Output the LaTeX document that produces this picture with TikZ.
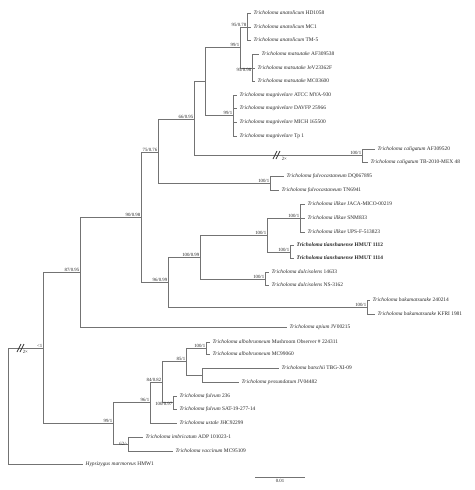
\documentclass[tikz,border=0pt]{standalone}
\usepackage{fontspec}
\setmainfont{Liberation Serif}
\begin{document}
\begin{tikzpicture}[x=1pt,y=-1pt,
  br/.style={draw=black!55, line width=0.55pt},
  leaf/.style={anchor=west, inner xsep=2.5pt, inner ysep=0.5pt, font=\fontsize{5.4}{6}\selectfont, text=black!85},
  sup/.style={anchor=south east, inner sep=0.6pt, font=\fontsize{4.8}{5.5}\selectfont, text=black!85},
  brk/.style={draw=black!80, line width=0.7pt}]
\useasboundingbox (0,0) rectangle (474,490);
% internal nodes
\coordinate (R) at (8,406);
\coordinate (Nlt) at (43,348);
\coordinate (N87) at (80,272);
\coordinate (N90) at (141,217);
\coordinate (N75) at (158,152);
\coordinate (N66) at (194,119);
\coordinate (Nu) at (205,81);
\coordinate (N99a) at (240,47);
\coordinate (N95a) at (247,27);
\coordinate (N95m) at (252,68);
\coordinate (N99m) at (233,115);
\coordinate (Ncal) at (362,155);
\coordinate (Nfc) at (270,183);
\coordinate (N96) at (168,282);
\coordinate (N100b) at (200,257);
\coordinate (Nit) at (267,235);
\coordinate (Nil) at (300,218);
\coordinate (Nti) at (290,252);
\coordinate (Ndu) at (265,279);
\coordinate (Nba) at (367,307);
\coordinate (N99b) at (113,423);
\coordinate (N96l) at (150,402);
\coordinate (N84) at (162,382);
\coordinate (N85) at (186,361);
\coordinate (Nal) at (206,348);
\coordinate (Nbp) at (202,375);
\coordinate (Nfu) at (173,402);
\coordinate (N62) at (128,444);
% leaves
\node[leaf] (an1) at (251,13) {\textit{Tricholoma anatolicum} HD1058};
\node[leaf] (an2) at (251,27) {\textit{Tricholoma anatolicum} MC1};
\node[leaf] (an3) at (251,40) {\textit{Tricholoma anatolicum} TM-5};
\node[leaf] (ma1) at (259,54) {\textit{Tricholoma matsutake} AF309538};
\node[leaf] (ma2) at (255,68) {\textit{Tricholoma matsutake} JeV23362F};
\node[leaf] (ma3) at (255,81) {\textit{Tricholoma matsutake} MC03600};
\node[leaf] (mg1) at (237,95) {\textit{Tricholoma magnivelare} ATCC MYA-930};
\node[leaf] (mg2) at (237,108) {\textit{Tricholoma magnivelare} DAVFP 25966};
\node[leaf] (mg3) at (237,122) {\textit{Tricholoma magnivelare} MICH 165500};
\node[leaf] (mg4) at (237,136) {\textit{Tricholoma magnivelare} Tp 1};
\node[leaf] (ca1) at (375,149) {\textit{Tricholoma caligatum} AF309520};
\node[leaf] (ca2) at (368,162) {\textit{Tricholoma caligatum} TB-2010-MEX 48};
\node[leaf] (fc1) at (284,176) {\textit{Tricholoma fulvocastaneum} DQ067895};
\node[leaf] (fc2) at (279,190) {\textit{Tricholoma fulvocastaneum} TN6941};
\node[leaf] (il1) at (305,204) {\textit{Tricholoma illkae} JACA-MICO-00219};
\node[leaf] (il2) at (305,218) {\textit{Tricholoma illkae} SNM833};
\node[leaf] (il3) at (305,232) {\textit{Tricholoma illkae} UPS-F-513823};
\node[leaf] (ti1) at (294,245) {\textbf{\textit{Tricholoma tianshanense} HMUT 1112}};
\node[leaf] (ti2) at (294,258) {\textbf{\textit{Tricholoma tianshanense} HMUT 1114}};
\node[leaf] (du1) at (269,272) {\textit{Tricholoma dulcisolens} 14633};
\node[leaf] (du2) at (269,285) {\textit{Tricholoma dulcisolens} NS-3162};
\node[leaf] (ba1) at (370,300) {\textit{Tricholoma bakamatsutake} 240214};
\node[leaf] (ba2) at (375,314) {\textit{Tricholoma bakamatsutake} KFRI 1981};
\node[leaf] (ap) at (287,327) {\textit{Tricholoma apium} JV00215};
\node[leaf] (al1) at (210,342) {\textit{Tricholoma albobrunneum} Mushroom Observer \# 224311};
\node[leaf] (al2) at (210,354) {\textit{Tricholoma albobrunneum} MC99060};
\node[leaf] (bt) at (279,368) {\textit{Tricholoma batschii} TBG-XI-09};
\node[leaf] (pe) at (239,382) {\textit{Tricholoma pessundatum} JV04482};
\node[leaf] (fu1) at (177,396) {\textit{Tricholoma fulvum} 236};
\node[leaf] (fu2) at (177,409) {\textit{Tricholoma fulvum} SAT-19-277-14};
\node[leaf] (ov) at (177,423) {\textit{Tricholoma ustale} JHC92299};
\node[leaf] (im) at (143,437) {\textit{Tricholoma imbricatum} ADP 101023-1};
\node[leaf] (va) at (173,451) {\textit{Tricholoma vaccinum} MC95109};
\node[leaf] (hy) at (83,464) {\textit{Hypsizygus marmoreus} HMW1};
% branches
\draw[br] (R) |- (Nlt);  \draw[br] (R) |- (hy.west);
\draw[br] (Nlt) |- (N87); \draw[br] (Nlt) |- (N99b);
\draw[br] (N87) |- (N90); \draw[br] (N87) |- (ap.west);
\draw[br] (N90) |- (N75); \draw[br] (N90) |- (N96);
\draw[br] (N75) |- (N66); \draw[br] (N75) |- (Nfc);
\draw[br] (N66) |- (Nu);  \draw[br] (N66) |- (Ncal);
\draw[br] (Nu) |- (N99a); \draw[br] (Nu) |- (N99m);
\draw[br] (N99a) |- (N95a); \draw[br] (N99a) |- (N95m);
\foreach \l in {an1,an2,an3} \draw[br] (N95a) |- (\l.west);
\foreach \l in {ma1,ma2,ma3} \draw[br] (N95m) |- (\l.west);
\foreach \l in {mg1,mg2,mg3,mg4} \draw[br] (N99m) |- (\l.west);
\foreach \l in {ca1,ca2} \draw[br] (Ncal) |- (\l.west);
\foreach \l in {fc1,fc2} \draw[br] (Nfc) |- (\l.west);
\draw[br] (N96) |- (N100b); \draw[br] (N96) |- (Nba);
\draw[br] (N100b) |- (Nit); \draw[br] (N100b) |- (Ndu);
\draw[br] (Nit) |- (Nil); \draw[br] (Nit) |- (Nti);
\foreach \l in {il1,il2,il3} \draw[br] (Nil) |- (\l.west);
\foreach \l in {ti1,ti2} \draw[br] (Nti) |- (\l.west);
\foreach \l in {du1,du2} \draw[br] (Ndu) |- (\l.west);
\foreach \l in {ba1,ba2} \draw[br] (Nba) |- (\l.west);
\draw[br] (N99b) |- (N96l); \draw[br] (N99b) |- (N62);
\draw[br] (N96l) |- (N84); \draw[br] (N96l) |- (ov.west);
\draw[br] (N84) |- (N85); \draw[br] (N84) |- (Nfu);
\draw[br] (N85) |- (Nal); \draw[br] (N85) |- (Nbp);
\foreach \l in {al1,al2} \draw[br] (Nal) |- (\l.west);
\foreach \l in {bt,pe} \draw[br] (Nbp) |- (\l.west);
\foreach \l in {fu1,fu2} \draw[br] (Nfu) |- (\l.west);
\foreach \l in {im,va} \draw[br] (N62) |- (\l.west);
% support values
\node[sup] at (N95a) {95/0.78};
\node[sup] at (N99a) {99/1};
\node[sup, anchor=north east] at (N95m) {95/0.98};
\node[sup] at (N99m) {99/1};
\node[sup] at (N66) {66/0.95};
\node[sup] at (N75) {75/0.76};
\node[sup] at (N90) {90/0.98};
\node[sup] at (N87) {87/0.95};
\node[sup] at (N96) {96/0.99};
\node[sup] at (N100b) {100/0.99};
\node[sup] at (Nit) {100/1};
\node[sup] at (Nil) {100/1};
\node[sup] at (Nti) {100/1};
\node[sup] at (Ndu) {100/1};
\node[sup] at (Nba) {100/1};
\node[sup] at (Ncal) {100/1};
\node[sup] at (Nfc) {100/1};
\node[sup] at (Nlt) {<1};
\node[sup] at (N99b) {99/1};
\node[sup] at (N96l) {96/1};
\node[sup] at (N84) {84/0.82};
\node[sup] at (N85) {85/1};
\node[sup] at (Nal) {100/1};
\node[sup, anchor=north east] at (Nfu) {100/0.97};
\node[sup, anchor=east] at (N62) {62/-};
% break marks
\coordinate (k1a) at (17,352); \coordinate (k1b) at (21,344);
\coordinate (k1c) at (20,352); \coordinate (k1d) at (24,344);
\draw[brk] (k1a) -- (k1b); \draw[brk] (k1c) -- (k1d);
\node[sup, anchor=north west] (b1) at (22,350) {2×};
\coordinate (k2a) at (273,159); \coordinate (k2b) at (277,151);
\coordinate (k2c) at (276,159); \coordinate (k2d) at (280,151);
\draw[brk] (k2a) -- (k2b); \draw[brk] (k2c) -- (k2d);
\node[sup, anchor=north west] (b2) at (281,157) {2×};
% scale bar
\coordinate (sb1) at (255,477); \coordinate (sb2) at (305,477);
\draw[br, line width=0.9pt] (sb1) -- (sb2);
\node[sup, anchor=north] (sbl) at (280,479) {0.01};
\end{tikzpicture}
\end{document}
